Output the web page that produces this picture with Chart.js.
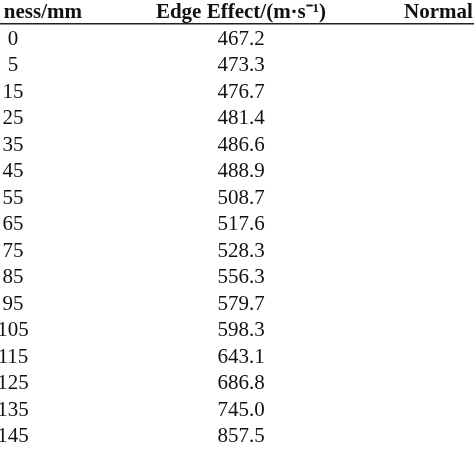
<!DOCTYPE html>
<html>
<head>
<meta charset="utf-8">
<script src="https://cdn.jsdelivr.net/npm/chart.js@4"></script>
<style>
  html, body { margin: 0; padding: 0; background: #fff; }
  #wrap { width: 474px; height: 474px; }
</style>
</head>
<body>
<div id="wrap"><canvas id="tbl"></canvas></div>
<script>
// table data
const headers = ['Thickness/mm', 'Edge Effect/(m·s\u207B\u00B9)', 'Normal'];
const thickness = ['0', '5', '15', '25', '35', '45', '55', '65', '75', '85', '95', '105', '115', '125', '135', '145'];
const edgeEffect = ['467.2', '473.3', '476.7', '481.4', '486.6', '488.9', '508.7', '517.6', '528.3', '556.3', '579.7', '598.3', '643.1', '686.8', '745.0', '857.5'];

// column centres (pixels) - layout only
const colX = [13, 241];

const tablePlugin = {
    id: 'tableText',
    afterDraw(chart) {
        const ctx = chart.ctx;
        const y = chart.scales.y;
        ctx.save();
        ctx.fillStyle = '#111';
        ctx.textBaseline = 'middle';

        // header
        const hy = y.getPixelForValue(-1);
        ctx.font = 'bold 21px "Liberation Serif", serif';
        ctx.textAlign = 'center';
        ctx.fillText(headers[1], colX[1], hy);
        ctx.textAlign = 'right';
        ctx.fillText('ness/mm', 82, hy);
        ctx.textAlign = 'left';
        ctx.fillText(headers[2], 404, hy);

        // rule under header
        ctx.strokeStyle = '#222';
        ctx.lineWidth = 1.5;
        const ly = y.getPixelForValue(-0.57);
        ctx.beginPath();
        ctx.moveTo(0, ly);
        ctx.lineTo(chart.width, ly);
        ctx.stroke();

        // body
        ctx.font = '21px "Liberation Serif", serif';
        ctx.textAlign = 'center';
        thickness.forEach((t, i) => {
            const py = y.getPixelForValue(i);
            ctx.fillText(t, colX[0], py);
            ctx.fillText(edgeEffect[i], colX[1], py);
        });
        ctx.restore();
    }
};

new Chart(document.getElementById('tbl'), {
    type: 'scatter',
    data: {
        datasets: [{
            data: thickness.map((t, i) => ({ x: 0, y: i })),
            pointRadius: 0
        }]
    },
    options: {
        responsive: true,
        maintainAspectRatio: false,
        animation: false,
        layout: { padding: 0 },
        plugins: { legend: { display: false }, tooltip: { enabled: false } },
        scales: {
            x: { display: false, min: 0, max: 1 },
            y: { display: false, reverse: true, min: -1.47, max: 16.4 }
        }
    },
    plugins: [tablePlugin]
});
</script>
</body>
</html>
